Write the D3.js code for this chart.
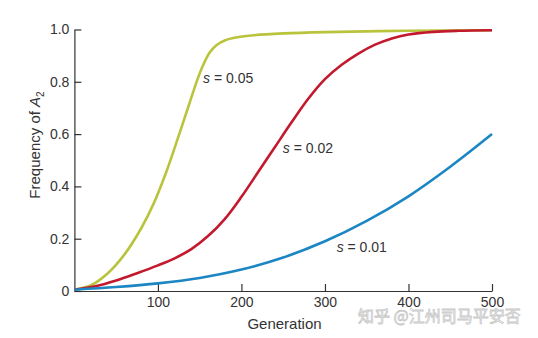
<!DOCTYPE html>
<html>
<head>
<meta charset="utf-8">
<script src="https://cdn.jsdelivr.net/npm/d3@7"></script>
<style>
  body { margin: 0; background: #fff; }
  svg { display: block; font-family: "Liberation Sans", Arial, sans-serif; }
</style>
</head>
<body>
<svg width="538" height="338"></svg>
<script>
(function (d3) {
    'use strict';

    // values: [generation, frequency of A2]
    const s05 = [[0, 0.005], [20, 0.022], [40, 0.068], [60, 0.14], [80, 0.24], [95, 0.335],
        [110, 0.455], [125, 0.595], [138, 0.72], [148, 0.815], [155, 0.87], [162, 0.912],
        [170, 0.94], [180, 0.958], [195, 0.97], [215, 0.978], [250, 0.985], [300, 0.99],
        [400, 0.995], [500, 0.997]];
    const s02 = [[0, 0.005], [25, 0.018], [50, 0.04], [75, 0.068], [100, 0.098], [120, 0.125],
        [140, 0.16], [160, 0.21], [180, 0.275], [200, 0.36], [220, 0.455], [240, 0.55],
        [260, 0.645], [280, 0.735], [300, 0.81], [320, 0.865], [340, 0.908], [360, 0.942],
        [380, 0.966], [400, 0.981], [430, 0.991], [460, 0.995], [500, 0.997]];
    const s01 = [[0, 0.005], [50, 0.015], [100, 0.029], [150, 0.05], [200, 0.082], [250, 0.128],
        [300, 0.19], [350, 0.268], [400, 0.362], [450, 0.475], [500, 0.6]];

    const xTicks = [100, 200, 300, 400, 500];
    const yTicks = [0, 0.2, 0.4, 0.6, 0.8, 1.0];

    const series = [
        {name: '0.05', values: s05, color: '#b9c43c', label: [154, 0.795]},
        {name: '0.02', values: s02, color: '#c3192f', label: [249.5, 0.528]},
        {name: '0.01', values: s01, color: '#1b86c3', label: [314, 0.149]}
    ];

    const svg = d3.select('svg');
    const ink = '#333';

    const x = d3.scaleLinear().domain([0, 500]).range([74.4, 492]);
    const y = d3.scaleLinear().domain([0, 1]).range([291, 29.5]);

    const xAxis = svg.append('g')
        .attr('transform', `translate(0,${y(0)})`)
        .call(d3.axisBottom(x).tickValues(xTicks).tickSizeInner(-7).tickSizeOuter(0).tickPadding(6));

    const yAxis = svg.append('g')
        .attr('transform', `translate(${x(0)},0)`)
        .call(d3.axisLeft(y).tickValues(yTicks).tickSizeInner(-7).tickSizeOuter(0).tickPadding(5)
            .tickFormat(d => d === 0 ? '0' : d3.format('.1f')(d)));

    [xAxis, yAxis].forEach(a => {
        a.selectAll('path, line').attr('stroke', ink).attr('stroke-width', 1.2);
        a.selectAll('text').attr('fill', ink).attr('font-size', 14);
    });

    const line = d3.line()
        .x(d => x(d[0]))
        .y(d => y(d[1]))
        .curve(d3.curveCatmullRom.alpha(0.5));

    svg.selectAll('path.curve').data(series)
        .enter().append('path')
        .attr('class', 'curve')
        .attr('d', d => line(d.values))
        .attr('fill', 'none')
        .attr('stroke', d => d.color)
        .attr('stroke-width', 2.6);

    const labels = svg.selectAll('text.lbl').data(series)
        .enter().append('text')
        .attr('class', 'lbl')
        .attr('x', d => x(d.label[0]))
        .attr('y', d => y(d.label[1]))
        .attr('font-size', 14)
        .attr('fill', ink);
    labels.append('tspan').attr('font-style', 'italic').text('s');
    labels.append('tspan').text(d => ' = ' + d.name);

    svg.append('text')
        .attr('x', 284.5)
        .attr('y', 329)
        .attr('text-anchor', 'middle')
        .attr('font-size', 15)
        .attr('fill', ink)
        .text('Generation');

    const yl = svg.append('text')
        .attr('transform', 'translate(40,145) rotate(-90)')
        .attr('text-anchor', 'middle')
        .attr('font-size', 15)
        .attr('fill', ink);
    yl.append('tspan').text('Frequency of ');
    yl.append('tspan').attr('font-style', 'italic').text('A');
    yl.append('tspan').attr('font-size', 10).attr('dy', 4).text('2');

    // watermark
    svg.append('text')
        .attr('x', 358)
        .attr('y', 322)
        .attr('font-family', '"Noto Sans CJK SC", sans-serif')
        .attr('font-size', 16)
        .attr('fill', '#fff')
        .attr('stroke', '#c8c8c8')
        .attr('stroke-width', 0.8)
        .text('知乎 @江州司马平安否');
}(d3));
</script>
</body>
</html>
